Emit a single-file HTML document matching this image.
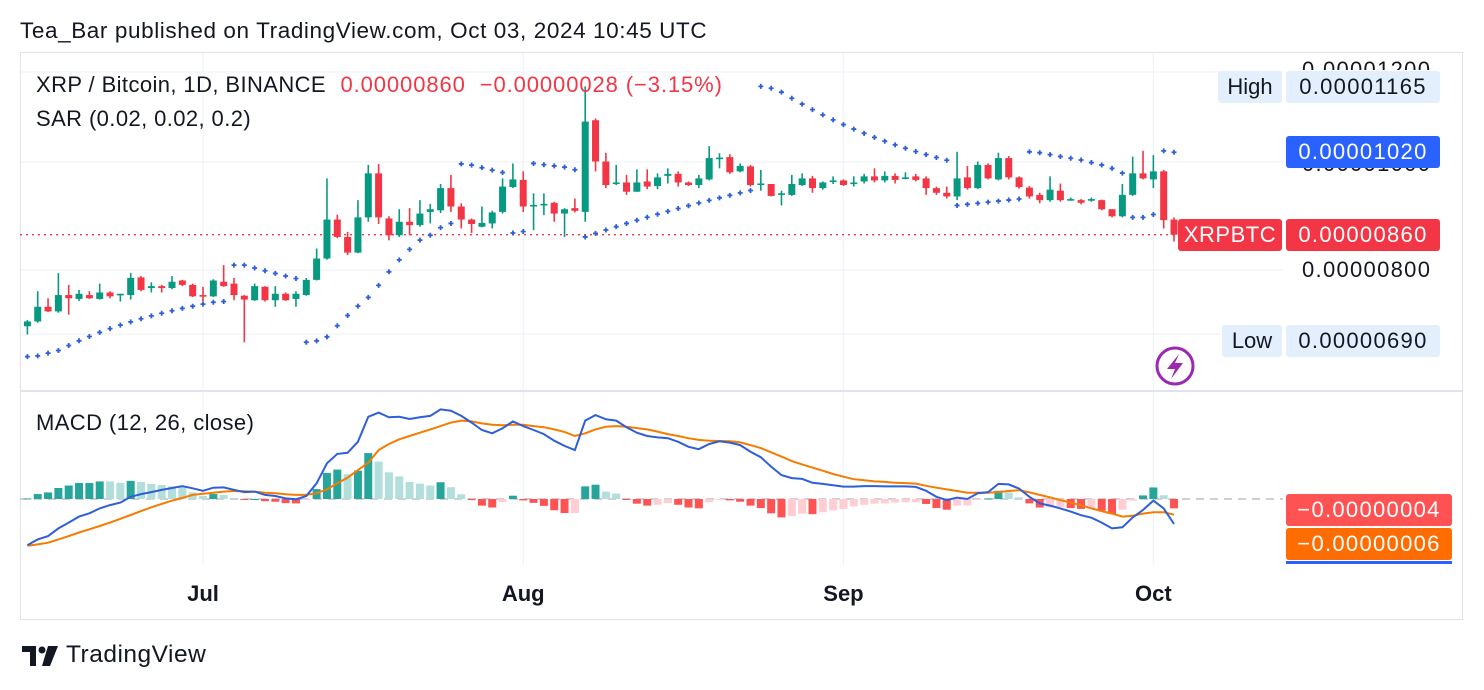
<!DOCTYPE html>
<html><head><meta charset="utf-8">
<style>
body{margin:0;background:#fff;font-family:"Liberation Sans",sans-serif;color:#131722;}
#wrap{position:relative;width:1484px;height:690px;overflow:hidden;}
.t{position:absolute;white-space:nowrap;font-size:22px;line-height:24px;letter-spacing:0.4px;}
.n{letter-spacing:1.3px;}
.box{position:absolute;font-size:22px;line-height:32px;text-align:center;border-radius:3px;}
</style></head>
<body>
<div id="wrap">
<div class="t" style="left:20px;top:19px;font-size:22.5px;letter-spacing:0.6px">Tea_Bar published on TradingView.com, Oct 03, 2024 10:45 UTC</div>
<svg id="svg" width="1484" height="690" style="position:absolute;left:0;top:0"></svg>
<div class="t" style="left:36px;top:73px;">XRP / Bitcoin, 1D, BINANCE <span class="n" style="color:#f23645;margin-left:8px;letter-spacing:0.9px">0.00000860 &nbsp;−0.00000028 (−3.15%)</span></div>
<div class="t" style="left:36px;top:107px;">SAR (0.02, 0.02, 0.2)</div>
<div class="t" style="left:36px;top:411px;">MACD (12, 26, close)</div>
<div class="t n" style="left:1302px;top:58px;height:12px;overflow:hidden">0.00001200</div>
<div class="t n" style="left:1302px;top:152px;">0.00001000</div>
<div class="t n" style="left:1302px;top:258px;">0.00000800</div>
<div class="box" style="left:1218px;top:71px;width:64px;background:#e3effd">High</div>
<div class="box n" style="left:1286px;top:71px;width:154px;background:#e3effd">0.00001165</div>
<div class="box n" style="left:1286px;top:136px;width:154px;background:#2962ff;color:#fff">0.00001020</div>
<div class="box" style="left:1178px;top:219px;width:104px;background:#f23645;color:#fff;letter-spacing:0.5px">XRPBTC</div>
<div class="box n" style="left:1286px;top:219px;width:154px;background:#f23645;color:#fff">0.00000860</div>
<div class="box" style="left:1222px;top:325px;width:60px;background:#e3effd">Low</div>
<div class="box n" style="left:1286px;top:325px;width:154px;background:#e3effd">0.00000690</div>
<div class="box n" style="left:1286px;top:494px;width:166px;background:#ff5252;color:#fff">−0.00000004</div>
<div class="box n" style="left:1286px;top:528px;width:166px;background:#ff6d00;color:#fff">−0.00000006</div>
<div style="position:absolute;left:1286px;top:561px;width:166px;height:3px;background:#2962ff"></div>
<div class="t" style="left:66px;top:643px;font-size:24.5px;letter-spacing:0.5px">TradingView</div>
</div>
<script>
const opens=[7.13,7.20,7.42,7.35,7.60,7.54,7.60,7.54,7.64,7.60,7.60,7.88,7.71,7.74,7.71,7.83,7.76,7.60,7.58,7.81,7.78,7.59,7.52,7.73,7.52,7.62,7.54,7.60,7.84,8.19,8.87,8.56,8.29,8.91,9.75,8.89,8.59,8.83,8.77,9.01,9.04,9.46,9.11,8.87,8.74,8.80,9.01,9.48,9.62,9.11,9.14,9.18,8.98,9.08,
9.01,10.87,9.99,9.55,9.57,9.39,9.59,9.50,9.70,9.74,9.57,9.52,9.63,10.06,10.08,9.79,9.89,9.54,9.54,9.35,9.33,9.52,9.65,9.46,9.60,9.61,9.56,9.59,9.69,9.61,9.70,9.66,9.69,9.65,9.46,9.37,9.30,9.67,9.46,9.92,9.63,10.06,9.67,9.47,9.33,9.23,9.41,9.24,9.23,9.24,9.23,9.06,8.93,9.33,9.75,9.63,9.79,8.87];
const closes=[7.20,7.42,7.35,7.60,7.55,7.62,7.55,7.64,7.58,7.62,7.87,7.68,7.74,7.71,7.81,7.76,7.58,7.59,7.83,7.74,7.60,7.53,7.74,7.52,7.62,7.52,7.62,7.84,8.19,8.87,8.56,8.29,8.91,9.75,8.91,8.59,8.83,8.77,8.98,9.06,9.46,9.11,8.87,8.79,8.81,9.00,9.49,9.63,9.11,9.14,9.16,8.98,9.06,9.03,
10.84,9.99,9.52,9.57,9.39,9.57,9.49,9.67,9.74,9.57,9.52,9.65,10.06,10.07,9.77,9.90,9.52,9.55,9.31,9.36,9.54,9.65,9.46,9.57,9.61,9.52,9.57,9.69,9.61,9.70,9.62,9.67,9.62,9.46,9.37,9.30,9.65,9.46,9.92,9.65,10.06,9.67,9.48,9.30,9.23,9.43,9.23,9.25,9.18,9.25,9.06,8.93,9.33,9.75,9.65,9.79,8.86,8.60];
const highs=[7.22,7.66,7.55,7.95,7.76,7.68,7.66,7.78,7.66,7.62,7.95,7.90,7.80,7.76,7.90,7.84,7.78,7.73,7.85,8.08,7.87,7.60,7.78,7.74,7.74,7.64,7.66,7.87,8.36,9.65,8.96,8.65,9.23,9.92,9.94,8.93,9.06,9.08,9.23,9.16,9.54,9.72,9.17,8.89,9.11,9.03,9.65,9.95,9.79,9.36,9.36,9.20,9.08,9.26,
11.65,10.91,10.17,9.92,9.72,9.83,9.83,9.75,9.85,9.79,9.59,9.72,10.31,10.16,10.14,9.95,9.92,9.82,9.54,9.41,9.72,9.75,9.70,9.59,9.69,9.63,9.69,9.74,9.85,9.79,9.75,9.77,9.74,9.69,9.49,9.49,10.19,9.90,9.99,9.95,10.17,10.10,9.69,9.50,9.37,9.69,9.55,9.28,9.25,9.28,9.24,9.06,9.54,10.09,10.21,10.12,9.82,8.91];
const lows=[7.01,7.18,7.34,7.33,7.30,7.51,7.54,7.53,7.55,7.50,7.53,7.66,7.64,7.64,7.69,7.74,7.57,7.50,7.57,7.73,7.52,6.90,7.51,7.50,7.42,7.51,7.42,7.59,7.83,8.17,8.54,8.25,8.28,8.83,8.79,8.50,8.56,8.59,8.74,8.80,8.99,9.01,8.71,8.63,8.73,8.71,8.98,9.46,9.01,8.68,8.95,8.83,8.56,9.00,
8.83,9.79,9.46,9.52,9.33,9.39,9.44,9.44,9.55,9.49,9.50,9.46,9.61,9.85,9.74,9.77,9.49,9.41,9.30,9.13,9.31,9.50,9.37,9.43,9.54,9.50,9.49,9.55,9.57,9.57,9.55,9.63,9.59,9.33,9.33,9.26,9.23,9.43,9.44,9.63,9.61,9.63,9.45,9.26,9.17,9.20,9.20,9.22,9.15,9.20,9.04,8.91,8.91,9.31,9.63,9.46,8.71,8.48];
const macdLine=[-16.8,-14.7,-13.5,-10.7,-8.6,-6.4,-5.2,-3.4,-2.2,-1.3,0.8,1.8,2.5,3.3,4.0,4.7,3.9,3.0,4.1,4.2,3.3,2.5,2.7,1.5,1.1,0.2,-0.1,1.1,5.7,13.0,16.4,16.8,20.8,29.9,31.4,29.7,29.9,29.1,29.7,30.2,32.6,32.1,30.2,27.8,25.1,23.9,25.7,28.2,26.5,25.1,23.6,21.2,19.3,17.8,28.5,30.5,29.0,28.5,26.1,24.1,22.9,22.4,22.1,20.8,19.0,18.1,20.0,21.0,20.5,19.6,17.2,15.2,11.8,8.7,7.6,7.3,5.9,5.5,5.0,4.5,4.5,4.7,4.7,4.6,4.6,4.6,4.4,3.0,0.8,-0.4,0.5,0,2.1,2.5,5.5,5.3,3.8,0.8,-1.6,-2.4,-3.4,-4.6,-5.9,-6.8,-8.6,-10.7,-10.3,-6.7,-4.0,-0.6,-3.4,-9.1];
const signalLine=[-17.0,-16.5,-15.9,-14.7,-13.5,-12.2,-11.0,-9.8,-8.6,-7.2,-5.8,-4.4,-3.0,-1.8,-0.6,0.4,1.5,1.9,2.3,2.7,2.9,2.8,2.7,2.3,2.1,1.7,1.5,1.5,2.1,3.5,5.7,7.8,10.5,13.2,17.8,20.0,21.7,22.9,24.1,25.3,26.5,27.8,28.5,28.2,27.5,27.0,26.8,27.0,27.0,26.5,26.1,25.3,24.4,22.9,23.9,25.3,26.3,26.5,26.3,25.8,25.3,24.5,23.6,22.9,22.1,21.5,21.2,21.1,21.0,20.6,19.6,18.5,17.0,15.4,13.8,12.6,11.4,10.3,9.1,8.1,7.2,6.8,6.4,6.2,5.9,5.8,5.6,4.8,4.1,3.5,2.9,2.3,2.3,2.3,2.5,2.9,3.2,2.4,1.5,0.6,-0.4,-1.3,-2.3,-3.4,-4.4,-5.3,-6.4,-6.1,-5.3,-4.8,-4.8,-5.7];
const monthLabels=["Jul","Aug","Sep","Oct"];
const monthIndex=[17,48,79,109];
const sarStart=6.70;
const lastPrice=8.60;

const NS="http://www.w3.org/2000/svg";
const svg=document.getElementById('svg');
function mk(tag,attrs,parent){const e=document.createElementNS(NS,tag);for(const k in attrs)e.setAttribute(k,attrs[k]);(parent||svg).appendChild(e);return e;}
const xOf=i=>203+(i-17)*10.33;
const yP=p=>270-488.5*Math.log(p/8.0);
const yM=v=>499-v*2.75;

let g=mk('g',{});
[72,162,270,334].forEach(y=>mk('line',{x1:20,x2:1283,y1:y,y2:y,stroke:'#f0f3fa','stroke-width':1.3},g));
monthIndex.forEach(i=>mk('line',{x1:xOf(i),x2:xOf(i),y1:52,y2:565,stroke:'#f0f3fa','stroke-width':1.3},g));
let fr=mk('rect',{x:20.5,y:52.5,width:1442,height:567,fill:'none',stroke:'#e0e3eb'});

let sep=mk('line',{x1:20,x2:1463,y1:391,y2:391,stroke:'#e0e3eb','stroke-width':2});

let z=mk('line',{x1:20,x2:1283,y1:yM(0),y2:yM(0),stroke:'#b2b5be','stroke-dasharray':'8 6','stroke-width':1.3});

let lp=mk('line',{x1:20,x2:1178,y1:yP(lastPrice),y2:yP(lastPrice),stroke:'#f23645','stroke-dasharray':'2 4','stroke-width':1.3});


monthLabels.forEach((m,k)=>{const t=mk('text',{x:xOf(monthIndex[k]),y:601,'text-anchor':'middle','font-size':22,'font-weight':'bold',fill:'#131722','font-family':'Liberation Sans, sans-serif'});t.textContent=m;

});

let hg=mk('g',{});
let prev=0;
macdLine.forEach((m,i)=>{const h=m-signalLine[i];let c;
 if(h>=0)c=(h>=prev)?'#26a69a':'#b2dfdb';else c=(h<prev)?'#ff5252':'#ffcdd2';prev=h;
 const y0=yM(0),y1=yM(h);const r=mk('rect',{x:xOf(i)-4,y:Math.min(y0,y1),width:8,height:Math.max(1,Math.abs(y1-y0)),fill:c},hg);
 
 });
function line(arr,col,name){const d=arr.map((v,i)=>(i?'L':'M')+xOf(i).toFixed(1)+' '+yM(v).toFixed(1)).join(' ');const p=mk('path',{d:d,fill:'none',stroke:col,'stroke-width':2});

}
line(signalLine,'#f57c00','signal-line');
line(macdLine,'#2f5fd8','macd-line');

let cg=mk('g',{});
opens.forEach((o,i)=>{const c=closes[i];const col=c>=o?'#089981':'#f23645';const x=xOf(i);
 const w=mk('line',{x1:x,x2:x,y1:yP(highs[i]),y2:yP(lows[i]),stroke:col,'stroke-width':1.6},cg);
 
 
 const yt=Math.min(yP(o),yP(c)),yb=Math.max(yP(o),yP(c));
 const b=mk('rect',{x:x-3.5,y:yt,width:7,height:Math.max(1.6,yb-yt),fill:col},cg);
 
 });

const sar=[sarStart];let up=true,s=sarStart,ep=highs[0],af=0.02;
for(let i=1;i<highs.length;i++){let n=s+af*(ep-s);
 if(up){n=Math.min(n,lows[i-1],i>1?lows[i-2]:lows[i-1]);
  if(lows[i]<n){up=false;n=ep;ep=lows[i];af=0.02;}else if(highs[i]>ep){ep=highs[i];af=Math.min(af+0.02,0.2);}}
 else{n=Math.max(n,highs[i-1],i>1?highs[i-2]:highs[i-1]);
  if(highs[i]>n){up=true;n=ep;ep=highs[i];af=0.02;}else if(lows[i]<ep){ep=lows[i];af=Math.min(af+0.02,0.2);}}
 s=n;sar.push(n);}
let sg=mk('g',{});
sar.forEach((v,i)=>{const x=xOf(i),y=yP(v);const p=mk('path',{d:`M${x-2.5} ${y}H${x+2.5}M${x} ${y-2.5}V${y+2.5}`,stroke:'#2f5fd8','stroke-width':1.8},sg);
 
 });

let li=mk('g',{});
mk('circle',{cx:1175,cy:366,r:18,fill:'#fff',stroke:'#9c27b0','stroke-width':3},li);
mk('path',{d:'M1179 354 L1167 369 L1175 369 L1171 379 L1183 363 L1175 363 Z',fill:'#9c27b0'},li);
let lg=mk('g',{});
mk('path',{d:'M22 646 H36 V666 H30 V652 H22 Z',fill:'#131722'},lg);
mk('circle',{cx:42,cy:650,r:3.5,fill:'#131722'},lg);
mk('path',{d:'M48 646 H58 L50 666 H42 Z',fill:'#131722'},lg);
</script>
</body></html>
